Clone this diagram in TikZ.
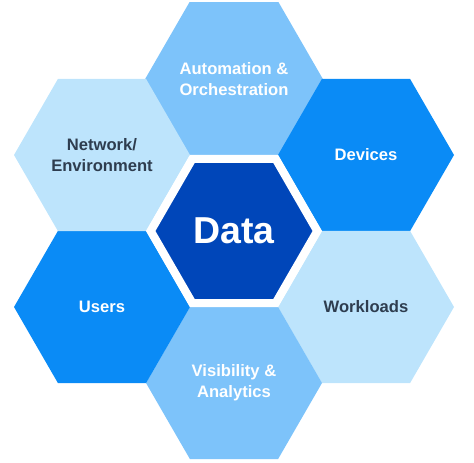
\documentclass[tikz,border=0pt]{standalone}
\usepackage{fontspec}
\setmainfont{Liberation Sans}
\usetikzlibrary{positioning, shapes.geometric}

\definecolor{hexpale}{HTML}{BDE4FC}
\definecolor{hexsoft}{HTML}{7DC3FA}
\definecolor{hexbright}{HTML}{0A8BF6}
\definecolor{hexdeep}{HTML}{0046B9}
\definecolor{hexink}{HTML}{2E3D4F}

\begin{document}
\begin{tikzpicture}[x=1pt, y=-1pt]
  \def\R{88}
  \tikzset{
    cell/.style={regular polygon, regular polygon sides=6, minimum size=2*\R pt,
      inner sep=0pt, outer sep=0pt, font=\bfseries\fontsize{16.6}{21}\selectfont, align=center},
    pale/.style={cell, fill=hexpale, text=hexink},
    soft/.style={cell, fill=hexsoft, text=white},
    bright/.style={cell, fill=hexbright, text=white},
    core/.style={cell, fill=hexdeep, draw=white, line width=8.2pt, line join=miter,
      minimum size=166.6pt, text=white, font=\bfseries\fontsize{37.5}{44}\selectfont},
  }
  \useasboundingbox (0,0) rectangle (474,463);

  %% ===== Ring of six cells round the core =====
  \node[soft]   (auto)  at (234,79)  {Automation \&\\Orchestration};
  \node[bright] (dev)   at (366,155) {Devices};
  \node[pale]   (work)  at (366,307) {Workloads};
  \node[soft]   (vis)   at (234,383) {Visibility \&\\Analytics};
  \node[bright] (users) at (102,307) {Users};
  \node[pale]   (net)   at (102,155) {Network/\\Environment};

  %% ===== Core cell =====
  \node[core] (data) at (234,231) {Data};
\end{tikzpicture}
\end{document}
